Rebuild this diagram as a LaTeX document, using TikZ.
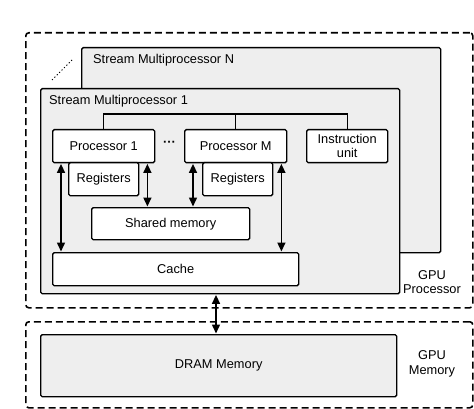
\documentclass[tikz,border=0pt]{standalone}
\usepackage{fontspec}
\setmainfont{Liberation Sans}
\usetikzlibrary{arrows.meta}
\definecolor{smgray}{HTML}{EEEEEE}
\begin{document}
\begin{tikzpicture}[x=1pt,y=-1pt,
  font=\fontsize{12.8}{14.5}\selectfont,
  box/.style={draw, line width=1.4pt, rounded corners=1.5pt, fill=white, inner sep=0pt, anchor=north west},
  smbox/.style={box, fill=smgray},
  outer/.style={draw, line width=1.6pt, dash pattern=on 7pt off 4pt, rounded corners=3pt},
  dbl/.style={line width=1.5pt, {Triangle[length=9pt,width=8pt]}-{Triangle[length=9pt,width=8pt]}, shorten <=0.5pt, shorten >=0.5pt},
  lbl/.style={inner sep=0pt, align=center}]
\useasboundingbox (0,0) rectangle (474,409);
% outer dashed regions
\node[outer, anchor=north west, minimum width=447pt, minimum height=275pt, inner sep=0pt] (gpup) at (25,32) {};
\node[outer, anchor=north west, minimum width=447pt, minimum height=86pt, inner sep=0pt] (gpum) at (25,321) {};
% stream multiprocessors
\node[smbox, minimum width=359pt, minimum height=205pt] (smN) at (81,47) {};
\node[lbl, anchor=west] (smNt) at (93,60) {Stream Multiprocessor N};
\draw[line width=1pt, dash pattern=on 1.2pt off 2.2pt] (52,80) coordinate (d1) -- (72,60) coordinate (d2);
\node[smbox, minimum width=359pt, minimum height=205pt] (sm1) at (40,88) {};
\node[lbl, anchor=west] (sm1t) at (49,101) {Stream Multiprocessor 1};
% inner units
\node[box, minimum width=102pt, minimum height=33pt] (p1) at (52,129) {Processor 1};
\node[box, minimum width=102pt, minimum height=33pt] (pM) at (184,129) {Processor M};
\node[box, minimum width=81pt, minimum height=33pt, align=center, font=\fontsize{12.8}{14}\selectfont] (instr) at (306,129) {Instruction\\unit};
\node[lbl, font=\fontsize{12.8}{14}\selectfont\bfseries] (dots) at (169.5,144) {···};
\node[box, minimum width=70pt, minimum height=33pt] (r1) at (68,162) {Registers};
\node[box, minimum width=70pt, minimum height=33pt] (r2) at (202,162) {Registers};
\node[box, minimum width=158pt, minimum height=32pt] (sh) at (91,207) {Shared memory};
\node[box, minimum width=246pt, minimum height=33pt] (cache) at (52,252) {Cache};
\node[smbox, minimum width=356pt, minimum height=62pt] (dram) at (40,334) {DRAM Memory};
% instruction bus
\coordinate (bus) at (0,114);
\draw[line width=1.4pt] (p1.north) |- (instr.north |- bus) -- (instr.north);
\draw[line width=1.4pt] (pM.north) -- (pM.north |- bus);
% data arrows
\draw[dbl] ([xshift=9pt]p1.south west) -- ([xshift=9pt]p1.south west |- cache.north);
\draw[dbl] ([xshift=-8pt]p1.south east) -- ([xshift=-8pt]p1.south east |- sh.north);
\draw[dbl] ([xshift=9pt]pM.south west) -- ([xshift=9pt]pM.south west |- sh.north);
\draw[dbl] ([xshift=-6pt]pM.south east) -- ([xshift=-6pt]pM.south east |- cache.north);
\coordinate (ax) at (216,0);
\draw[dbl] (sm1.south -| ax) -- (dram.north -| ax);
% region labels
\node[lbl] (gpupl) at (432,282) {GPU\\Processor};
\node[lbl] (gpuml) at (432,364) {GPU\\Memory};
\end{tikzpicture}
\end{document}
